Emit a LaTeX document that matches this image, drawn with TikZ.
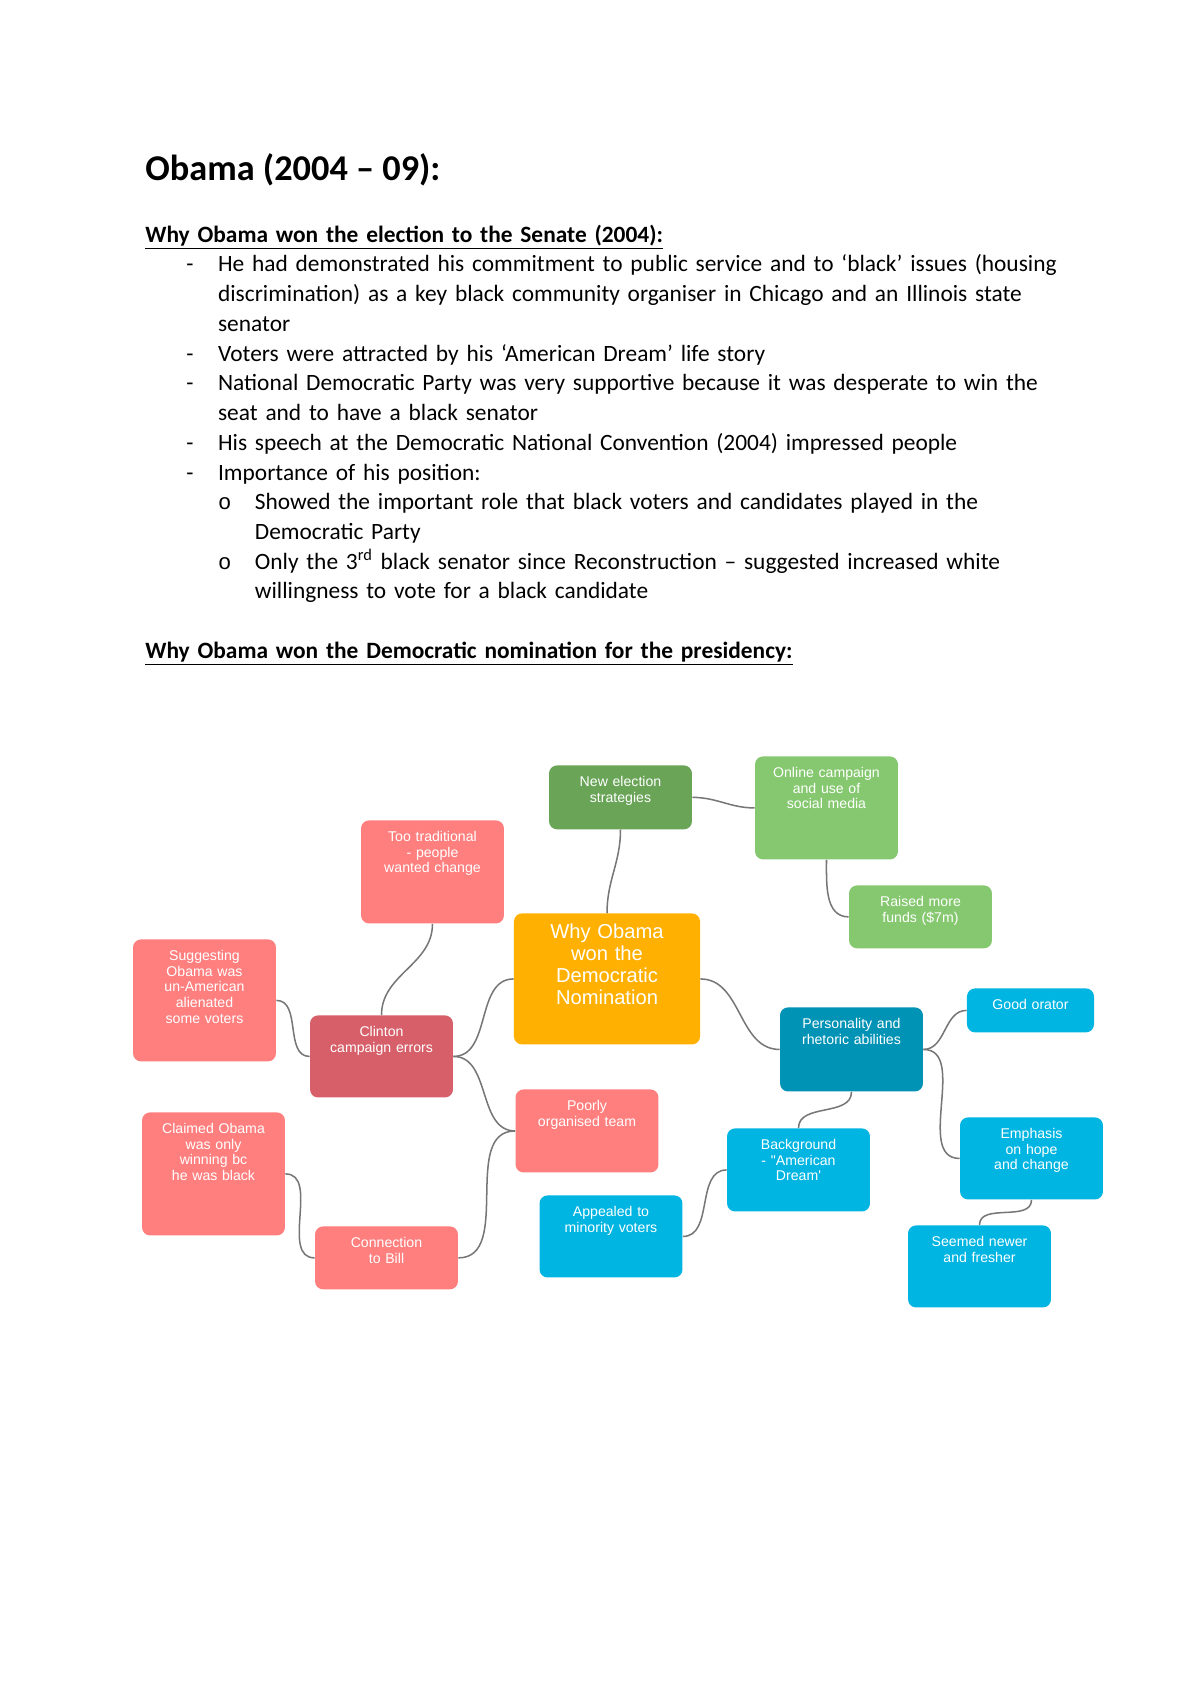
\documentclass[tikz,border=0pt]{standalone}
\usepackage{fontspec}
\setmainfont{Carlito}
\setmonofont{Liberation Mono}
\newfontfamily\mapfont{Liberation Sans}
\usepackage{xcolor}
\usepackage{tikz}
\usetikzlibrary{positioning}

\definecolor{pinkred}{HTML}{FF7F7F}
\definecolor{clintonred}{HTML}{D65F69}
\definecolor{mainorange}{HTML}{FFB000}
\definecolor{darkgreen}{HTML}{69A457}
\definecolor{lightgreen}{HTML}{85C86F}
\definecolor{tealblue}{HTML}{0093B5}
\definecolor{skyblue}{HTML}{00B5E2}
\definecolor{linkgray}{HTML}{767676}

\begin{document}
\begin{tikzpicture}[
  x=0.496pt, y=-0.496pt,
  body/.style={anchor=base west, inner sep=0pt, text width=470pt, align=left,
               font=\fontsize{11.6}{14.75}\selectfont},
  bulletmark/.style={anchor=base west, inner sep=0pt, font=\fontsize{11.6}{14.75}\selectfont},
  mapbox/.style={anchor=north, rounded corners=4pt, text=white, align=center,
                 text width=66.9pt, inner xsep=2pt, inner ysep=0pt, text height=10.4pt,
                 font=\mapfont\fontsize{7}{7.8}\selectfont},
  pinkbox/.style={mapbox, fill=pinkred},
  clintonbox/.style={mapbox, fill=clintonred},
  greenbox/.style={mapbox, fill=darkgreen},
  lightgreenbox/.style={mapbox, fill=lightgreen},
  tealbox/.style={mapbox, fill=tealblue},
  bluebox/.style={mapbox, fill=skyblue},
  mainbox/.style={mapbox, fill=mainorange, text width=88.3pt, text height=12.4pt,
                  font=\mapfont\fontsize{10}{11}\selectfont},
  link/.style={draw=linkgray, line width=0.75pt}
]
  \fill[white] (0,0) rectangle (1200,1698);
  \useasboundingbox (0,0) rectangle (1200,1698);

  % notes
  \node[anchor=base west, inner sep=0pt, font=\fontsize{18}{21}\selectfont\bfseries] (title) at (145,180) {Obama (2004 -- 09):};
  \node[body] (head1) at (145,242.3) {\underline{\textbf{Why Obama won the election to the Senate (2004):}}};

  \node[bulletmark] (d1) at (186,271.9) {-};
  \node[body] (b1) at (217.7,271.9) {He had demonstrated his commitment to public service and to ‘black’ issues (housing\\discrimination) as a key black community organiser in Chicago and an Illinois state\\senator};
  \node[bulletmark] (d2) at (186,361.1) {-};
  \node[body] (b2) at (217.7,361.1) {Voters were attracted by his ‘American Dream’ life story};
  \node[bulletmark] (d3) at (186,390.8) {-};
  \node[body] (b3) at (217.7,390.8) {National Democratic Party was very supportive because it was desperate to win the\\seat and to have a black senator};
  \node[bulletmark] (d4) at (186,450.3) {-};
  \node[body] (b4) at (217.7,450.3) {His speech at the Democratic National Convention (2004) impressed people};
  \node[bulletmark] (d5) at (186,480.0) {-};
  \node[body] (b5) at (217.7,480.0) {Importance of his position:};
  \node[bulletmark, font=\ttfamily\fontsize{11}{14.75}\selectfont] (o1) at (217.7,509.7) {o};
  \node[body] (s1) at (254.5,509.7) {Showed the important role that black voters and candidates played in the\\Democratic Party};
  \node[bulletmark, font=\ttfamily\fontsize{11}{14.75}\selectfont] (o2) at (217.7,569.2) {o};
  \node[body] (s2) at (254.5,569.2) {Only the 3\textsuperscript{rd} black senator since Reconstruction -- suggested increased white\\willingness to vote for a black candidate};

  \node[body] (head2) at (145,658.3) {\underline{\textbf{Why Obama won the Democratic nomination for the presidency:}}};

  % mind map
  \node[mainbox, text depth=52.6pt] (main) at (607,913) {Why Obama\\won the\\Democratic\\Nomination};

  \node[greenbox, text depth=21.3pt] (elec) at (620.5,765) {New election\\strategies};
  \node[lightgreenbox, text depth=40.7pt] (online) at (826.5,756) {Online campaign\\and use of\\social media};
  \node[lightgreenbox, text depth=20.8pt] (funds) at (920.5,885) {Raised more\\funds (\$7m)};

  \node[clintonbox, text depth=30.3pt] (clinton) at (381.5,1015) {Clinton\\campaign errors};
  \node[pinkbox, text depth=40.7pt] (trad) at (432.5,820) {Too traditional\\- people\\wanted change};
  \node[pinkbox, text depth=50.1pt] (unamer) at (204.5,939) {Suggesting\\Obama was\\un-American\\alienated\\some voters};
  \node[pinkbox, text depth=30.8pt] (team) at (587,1089) {Poorly\\organised team};
  \node[pinkbox, text depth=50.6pt] (black) at (213.5,1112) {Claimed Obama\\was only\\winning bc\\he was black};
  \node[pinkbox, text depth=20.8pt] (bill) at (386.5,1226) {Connection\\to Bill};

  \node[tealbox, text depth=31.3pt] (person) at (851.5,1007) {Personality and\\rhetoric abilities};
  \node[bluebox, text width=59pt, text depth=11.4pt] (orator) at (1030.5,988) {Good orator};
  \node[bluebox, text depth=30.3pt] (hope) at (1031.5,1117) {Emphasis\\on hope\\and change};
  \node[bluebox, text depth=30.3pt] (fresh) at (979.5,1225) {Seemed newer\\and fresher};
  \node[bluebox, text depth=30.8pt] (dream) at (798.5,1128) {Background\\- "American\\Dream{\char39}};
  \node[bluebox, text depth=30.3pt] (minority) at (611,1195) {Appealed to\\minority voters};

  \draw[link] (elec.south) to[out=-90,in=90] (main.north);
  \draw[link] (elec.east) to[out=0,in=180] (online.west);
  \draw[link] (online.south) to[out=-90,in=180] (funds.west);
  \draw[link] (main.west) to[out=180,in=0] (clinton.east);
  \draw[link] (trad.south) to[out=-90,in=90] (clinton.north);
  \draw[link] (unamer.east) to[out=0,in=180] (clinton.west);
  \draw[link] (clinton.east) to[out=0,in=180] (team.west);
  \draw[link] (team.west) to[out=180,in=0] (bill.east);
  \draw[link] (black.east) to[out=0,in=180] (bill.west);
  \draw[link] (main.east) to[out=0,in=180] (person.west);
  \draw[link] (person.east) to[out=0,in=180] (orator.west);
  \draw[link] (person.east) to[out=0,in=180] (hope.west);
  \draw[link] (person.south) to[out=-90,in=90] (dream.north);
  \draw[link] (dream.west) to[out=180,in=0] (minority.east);
  \draw[link] (hope.south) to[out=-90,in=90] (fresh.north);
\end{tikzpicture}
\end{document}
